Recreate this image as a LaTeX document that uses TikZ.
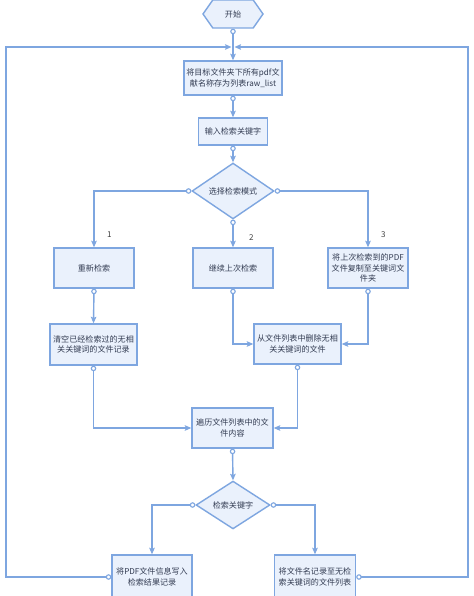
\documentclass[tikz,border=0pt]{standalone}
\usepackage{fontspec}
\setmainfont{Noto Sans CJK SC}
\usetikzlibrary{arrows.meta,shapes.geometric,shapes.symbols}
\definecolor{flowline}{RGB}{126,166,224}
\definecolor{flowfill}{RGB}{234,241,252}
\definecolor{flowtext}{RGB}{51,60,82}

\begin{document}
\begin{tikzpicture}[x=1bp, y=-1bp,
  every node/.style={font=\fontsize{8.1}{10.5}\selectfont, text=flowtext},
  proc/.style={draw=flowline, fill=flowfill, line width=1.4bp, align=center,
    inner sep=1bp, minimum width=80bp, minimum height=40bp},
  decide/.style={diamond, draw=flowline, fill=flowfill, line width=1.4bp,
    inner sep=0pt},
  flow/.style={draw=flowline, line width=1.4bp,
    {Circle[length=5.5bp,open,fill=white,line width=1.1bp]}-{Stealth[length=6.5bp,width=5.5bp,inset=1.2bp]}},
  tag/.style={font=\fontsize{8.1}{10}\selectfont, text=black!75}
]
\fill[white] (0,0) rectangle (474,596);
\useasboundingbox (0,0) rectangle (474,596);

\node[signal, signal to=west and east, signal pointer angle=110, draw=flowline,
  fill=flowfill, line width=1.4bp, minimum width=60bp, minimum height=28bp,
  inner sep=0pt] (S) at (233,14) {开始};
\node[proc, minimum width=98bp, minimum height=34bp] (B1) at (233,78)
  {将目标文件夹下所有pdf文\\献名称存为列表raw\_list};
\node[proc, minimum width=69bp, minimum height=27bp] (B2) at (233,131.5) {输入检索关键字};
\node[decide, minimum width=82bp, minimum height=38bp] (D1) at (233,191) {选择检索模式};

\node[proc] (R1) at (94,268) {重新检索};
\node[proc] (R2) at (233,268) {继续上次检索};
\node[proc] (R3) at (368,268) {将上次检索到的PDF\\文件复制至关键词文\\件夹};

\node[proc, minimum width=87bp, minimum height=41bp] (C1) at (93.5,344.5)
  {清空已经检索过的无相\\关关键词的文件记录};
\node[proc, minimum width=87bp] (C2) at (297.5,344)
  {从文件列表中删除无相\\关关键词的文件};

\node[proc, minimum width=81bp] (T) at (232.5,428) {遍历文件列表中的文\\件内容};
\node[decide, minimum width=74bp, minimum height=46bp] (D2) at (233,505) {检索关键字};

\node[proc, minimum height=44bp] (W1) at (152,577) {将PDF文件信息写入\\检索结果记录};
\node[proc, minimum width=81bp, minimum height=44bp] (W2) at (315,577)
  {将文件名记录至无检\\索关键词的文件列表};

\coordinate (J) at (233,47);
\coordinate (LL) at (6,47);
\coordinate (RR) at (468,47);

\draw[flow] (S.south) -- (B1.north);
\draw[flow] (B1.south) -- (B2.north);
\draw[flow] (B2.south) -- (D1.north);

\draw[flow] (D1.west) -| node[tag, pos=0.885, right=9bp]{1} (R1.north);
\draw[flow] (D1.south) -- node[tag, pos=0.65, right=12bp]{2} (R2.north);
\draw[flow] (D1.east) -| node[tag, pos=0.885, right=9bp]{3} (R3.north);

\draw[flow] (R1.south) -- (C1.north);
\draw[flow] (R2.south) |- (C2.west);
\draw[flow] (R3.south) |- (C2.east);
\draw[flow] (C1.south) |- (T.west);
\draw[flow] (C2.south) |- (T.east);

\draw[flow] (T.south) -- (D2.north);
\draw[flow] (D2.west) -| (W1.north);
\draw[flow] (D2.east) -| (W2.north);

\draw[flow, shorten >=1.5bp] (W1.west) -| (LL) -- (J);
\draw[flow, shorten >=1.5bp] (W2.east) -| (RR) -- (J);
\end{tikzpicture}
\end{document}
